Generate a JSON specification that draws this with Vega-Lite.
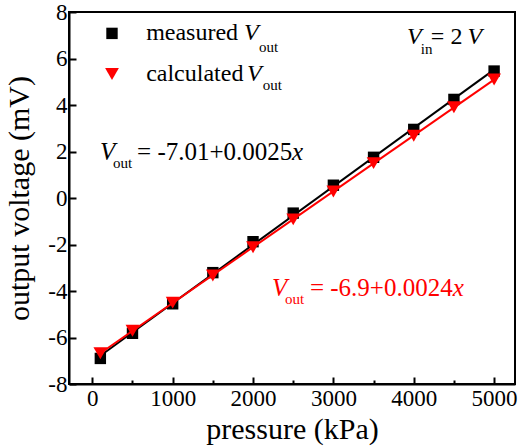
{
  "$schema": "https://vega.github.io/schema/vega-lite/v6.json",
  "width": 446,
  "height": 372,
  "autosize": {"type": "none"},
  "padding": {"left": 69, "top": 12, "right": 5, "bottom": 62},
  "background": "white",
  "config": {
    "view": {"stroke": "black", "strokeWidth": 2},
    "font": "Liberation Serif",
    "axis": {
      "grid": false,
      "labelFont": "Liberation Serif",
      "labelFontSize": 23,
      "labelColor": "black",
      "titleFont": "Liberation Serif",
      "titleFontWeight": "normal",
      "titleColor": "black"
    }
  },
  "datasets": {
    "measured": [
      {"pressure": 100, "voltage": -6.9},
      {"pressure": 500, "voltage": -5.82},
      {"pressure": 1000, "voltage": -4.55},
      {"pressure": 1500, "voltage": -3.21},
      {"pressure": 2000, "voltage": -1.88},
      {"pressure": 2500, "voltage": -0.65},
      {"pressure": 3000, "voltage": 0.55},
      {"pressure": 3500, "voltage": 1.75},
      {"pressure": 4000, "voltage": 2.95},
      {"pressure": 4500, "voltage": 4.24},
      {"pressure": 5000, "voltage": 5.46}
    ],
    "calculated": [
      {"pressure": 100, "voltage": -6.68},
      {"pressure": 500, "voltage": -5.71},
      {"pressure": 1000, "voltage": -4.5},
      {"pressure": 1500, "voltage": -3.33},
      {"pressure": 2000, "voltage": -2.12},
      {"pressure": 2500, "voltage": -0.92},
      {"pressure": 3000, "voltage": 0.28},
      {"pressure": 3500, "voltage": 1.5},
      {"pressure": 4000, "voltage": 2.68},
      {"pressure": 4500, "voltage": 3.9},
      {"pressure": 5000, "voltage": 5.1}
    ]
  },
  "layer": [
    {
      "data": {"name": "measured"},
      "mark": {"type": "point", "shape": "square", "filled": true, "size": 130, "color": "black", "opacity": 1},
      "encoding": {
        "x": {
          "field": "pressure",
          "type": "quantitative",
          "scale": {"domain": [-290, 5260], "nice": false, "zero": false},
          "axis": {
            "values": [0, 500, 1000, 1500, 2000, 2500, 3000, 3500, 4000, 4500, 5000],
            "labelExpr": "datum.value % 1000 === 0 ? '' + datum.value : ''",
            "tickSize": {"condition": {"test": "datum.value % 1000 === 0", "value": -7}, "value": -4},
            "tickWidth": 2,
            "tickColor": "black",
            "domainColor": "black",
            "domainWidth": 2,
            "labelPadding": 10,
            "labelFlush": false,
            "labelOverlap": false,
            "title": "pressure (kPa)",
            "titleFontSize": 30,
            "titlePadding": 1
          }
        },
        "y": {
          "field": "voltage",
          "type": "quantitative",
          "scale": {"domain": [-8, 8], "nice": false, "zero": false},
          "axis": {
            "values": [-8, -7, -6, -5, -4, -3, -2, -1, 0, 1, 2, 3, 4, 5, 6, 7, 8],
            "labelExpr": "datum.value % 2 === 0 ? '' + datum.value : ''",
            "tickSize": {"condition": {"test": "datum.value % 2 === 0", "value": -7}, "value": -4},
            "tickWidth": 2,
            "tickColor": "black",
            "domainColor": "black",
            "domainWidth": 2,
            "labelPadding": 9,
            "labelFlush": false,
            "labelOverlap": false,
            "title": "output voltage (mV)",
            "titleFontSize": 30,
            "titlePadding": 13
          }
        }
      }
    },
    {
      "data": {"name": "measured"},
      "transform": [{"regression": "voltage", "on": "pressure", "extent": [100, 5000]}],
      "mark": {"type": "line", "color": "black", "strokeWidth": 2},
      "encoding": {
        "x": {"field": "pressure", "type": "quantitative"},
        "y": {"field": "voltage", "type": "quantitative"}
      }
    },
    {
      "data": {"name": "calculated"},
      "mark": {"type": "point", "shape": "triangle-down", "filled": true, "size": 190, "color": "#ff0000", "opacity": 1},
      "encoding": {
        "x": {"field": "pressure", "type": "quantitative"},
        "y": {"field": "voltage", "type": "quantitative"}
      }
    },
    {
      "data": {"name": "calculated"},
      "transform": [{"regression": "voltage", "on": "pressure", "extent": [100, 5000]}],
      "mark": {"type": "line", "color": "#ff0000", "strokeWidth": 2},
      "encoding": {
        "x": {"field": "pressure", "type": "quantitative"},
        "y": {"field": "voltage", "type": "quantitative"}
      }
    },
    {
      "data": {"values": [{}]},
      "mark": {"type": "point", "shape": "square", "filled": true, "size": 130, "color": "black", "opacity": 1},
      "encoding": {"x": {"datum": 245, "type": "quantitative"}, "y": {"datum": 7.08, "type": "quantitative"}}
    },
    {
      "data": {"values": [{}]},
      "mark": {"type": "point", "shape": "triangle-down", "filled": true, "size": 190, "color": "#ff0000", "opacity": 1},
      "encoding": {"x": {"datum": 245, "type": "quantitative"}, "y": {"datum": 5.33, "type": "quantitative"}}
    },
    {
      "data": {"values": [{}]},
      "mark": {"type": "text", "text": "measured", "align": "left", "baseline": "middle", "fontSize": 24, "color": "black"},
      "encoding": {"x": {"datum": 670, "type": "quantitative"}, "y": {"datum": 7.08, "type": "quantitative"}}
    },
    {
      "data": {"values": [{}]},
      "mark": {"type": "text", "text": "V", "align": "left", "baseline": "middle", "fontSize": 24, "fontStyle": "italic", "color": "black"},
      "encoding": {"x": {"datum": 1889, "type": "quantitative"}, "y": {"datum": 7.08, "type": "quantitative"}}
    },
    {
      "data": {"values": [{}]},
      "mark": {"type": "text", "text": "out", "align": "left", "baseline": "middle", "fontSize": 15, "color": "black"},
      "encoding": {"x": {"datum": 2073, "type": "quantitative"}, "y": {"datum": 6.49, "type": "quantitative"}}
    },
    {
      "data": {"values": [{}]},
      "mark": {"type": "text", "text": "calculated", "align": "left", "baseline": "middle", "fontSize": 24, "color": "black"},
      "encoding": {"x": {"datum": 670, "type": "quantitative"}, "y": {"datum": 5.33, "type": "quantitative"}}
    },
    {
      "data": {"values": [{}]},
      "mark": {"type": "text", "text": "V", "align": "left", "baseline": "middle", "fontSize": 24, "fontStyle": "italic", "color": "black"},
      "encoding": {"x": {"datum": 1924, "type": "quantitative"}, "y": {"datum": 5.33, "type": "quantitative"}}
    },
    {
      "data": {"values": [{}]},
      "mark": {"type": "text", "text": "out", "align": "left", "baseline": "middle", "fontSize": 15, "color": "black"},
      "encoding": {"x": {"datum": 2122, "type": "quantitative"}, "y": {"datum": 4.86, "type": "quantitative"}}
    },
    {
      "data": {"values": [{}]},
      "mark": {"type": "text", "text": "V", "align": "left", "baseline": "middle", "fontSize": 24, "fontStyle": "italic", "color": "black"},
      "encoding": {"x": {"datum": 3917, "type": "quantitative"}, "y": {"datum": 6.92, "type": "quantitative"}}
    },
    {
      "data": {"values": [{}]},
      "mark": {"type": "text", "text": "in", "align": "left", "baseline": "middle", "fontSize": 15, "color": "black"},
      "encoding": {"x": {"datum": 4087, "type": "quantitative"}, "y": {"datum": 6.41, "type": "quantitative"}}
    },
    {
      "data": {"values": [{}]},
      "mark": {"type": "text", "text": "= 2", "align": "left", "baseline": "middle", "fontSize": 24, "color": "black"},
      "encoding": {"x": {"datum": 4213, "type": "quantitative"}, "y": {"datum": 6.92, "type": "quantitative"}}
    },
    {
      "data": {"values": [{}]},
      "mark": {"type": "text", "text": "V", "align": "left", "baseline": "middle", "fontSize": 24, "fontStyle": "italic", "color": "black"},
      "encoding": {"x": {"datum": 4670, "type": "quantitative"}, "y": {"datum": 6.92, "type": "quantitative"}}
    },
    {
      "data": {"values": [{}]},
      "mark": {"type": "text", "text": "V", "align": "left", "baseline": "middle", "fontSize": 25, "fontStyle": "italic", "color": "black"},
      "encoding": {"x": {"datum": 96, "type": "quantitative"}, "y": {"datum": 1.98, "type": "quantitative"}}
    },
    {
      "data": {"values": [{}]},
      "mark": {"type": "text", "text": "out", "align": "left", "baseline": "middle", "fontSize": 15, "color": "black"},
      "encoding": {"x": {"datum": 257, "type": "quantitative"}, "y": {"datum": 1.51, "type": "quantitative"}}
    },
    {
      "data": {"values": [{}]},
      "mark": {"type": "text", "text": "= -7.01+0.0025", "align": "left", "baseline": "middle", "fontSize": 25, "color": "black"},
      "encoding": {"x": {"datum": 557, "type": "quantitative"}, "y": {"datum": 1.98, "type": "quantitative"}}
    },
    {
      "data": {"values": [{}]},
      "mark": {"type": "text", "text": "x", "align": "left", "baseline": "middle", "fontSize": 25, "fontStyle": "italic", "color": "black"},
      "encoding": {"x": {"datum": 2484, "type": "quantitative"}, "y": {"datum": 1.98, "type": "quantitative"}}
    },
    {
      "data": {"values": [{}]},
      "mark": {"type": "text", "text": "V", "align": "left", "baseline": "middle", "fontSize": 25, "fontStyle": "italic", "color": "#ff0000"},
      "encoding": {"x": {"datum": 2235, "type": "quantitative"}, "y": {"datum": -3.87, "type": "quantitative"}}
    },
    {
      "data": {"values": [{}]},
      "mark": {"type": "text", "text": "out", "align": "left", "baseline": "middle", "fontSize": 15, "color": "#ff0000"},
      "encoding": {"x": {"datum": 2397, "type": "quantitative"}, "y": {"datum": -4.34, "type": "quantitative"}}
    },
    {
      "data": {"values": [{}]},
      "mark": {"type": "text", "text": "= -6.9+0.0024", "align": "left", "baseline": "middle", "fontSize": 25, "color": "#ff0000"},
      "encoding": {"x": {"datum": 2708, "type": "quantitative"}, "y": {"datum": -3.87, "type": "quantitative"}}
    },
    {
      "data": {"values": [{}]},
      "mark": {"type": "text", "text": "x", "align": "left", "baseline": "middle", "fontSize": 25, "fontStyle": "italic", "color": "#ff0000"},
      "encoding": {"x": {"datum": 4486, "type": "quantitative"}, "y": {"datum": -3.87, "type": "quantitative"}}
    }
  ]
}
